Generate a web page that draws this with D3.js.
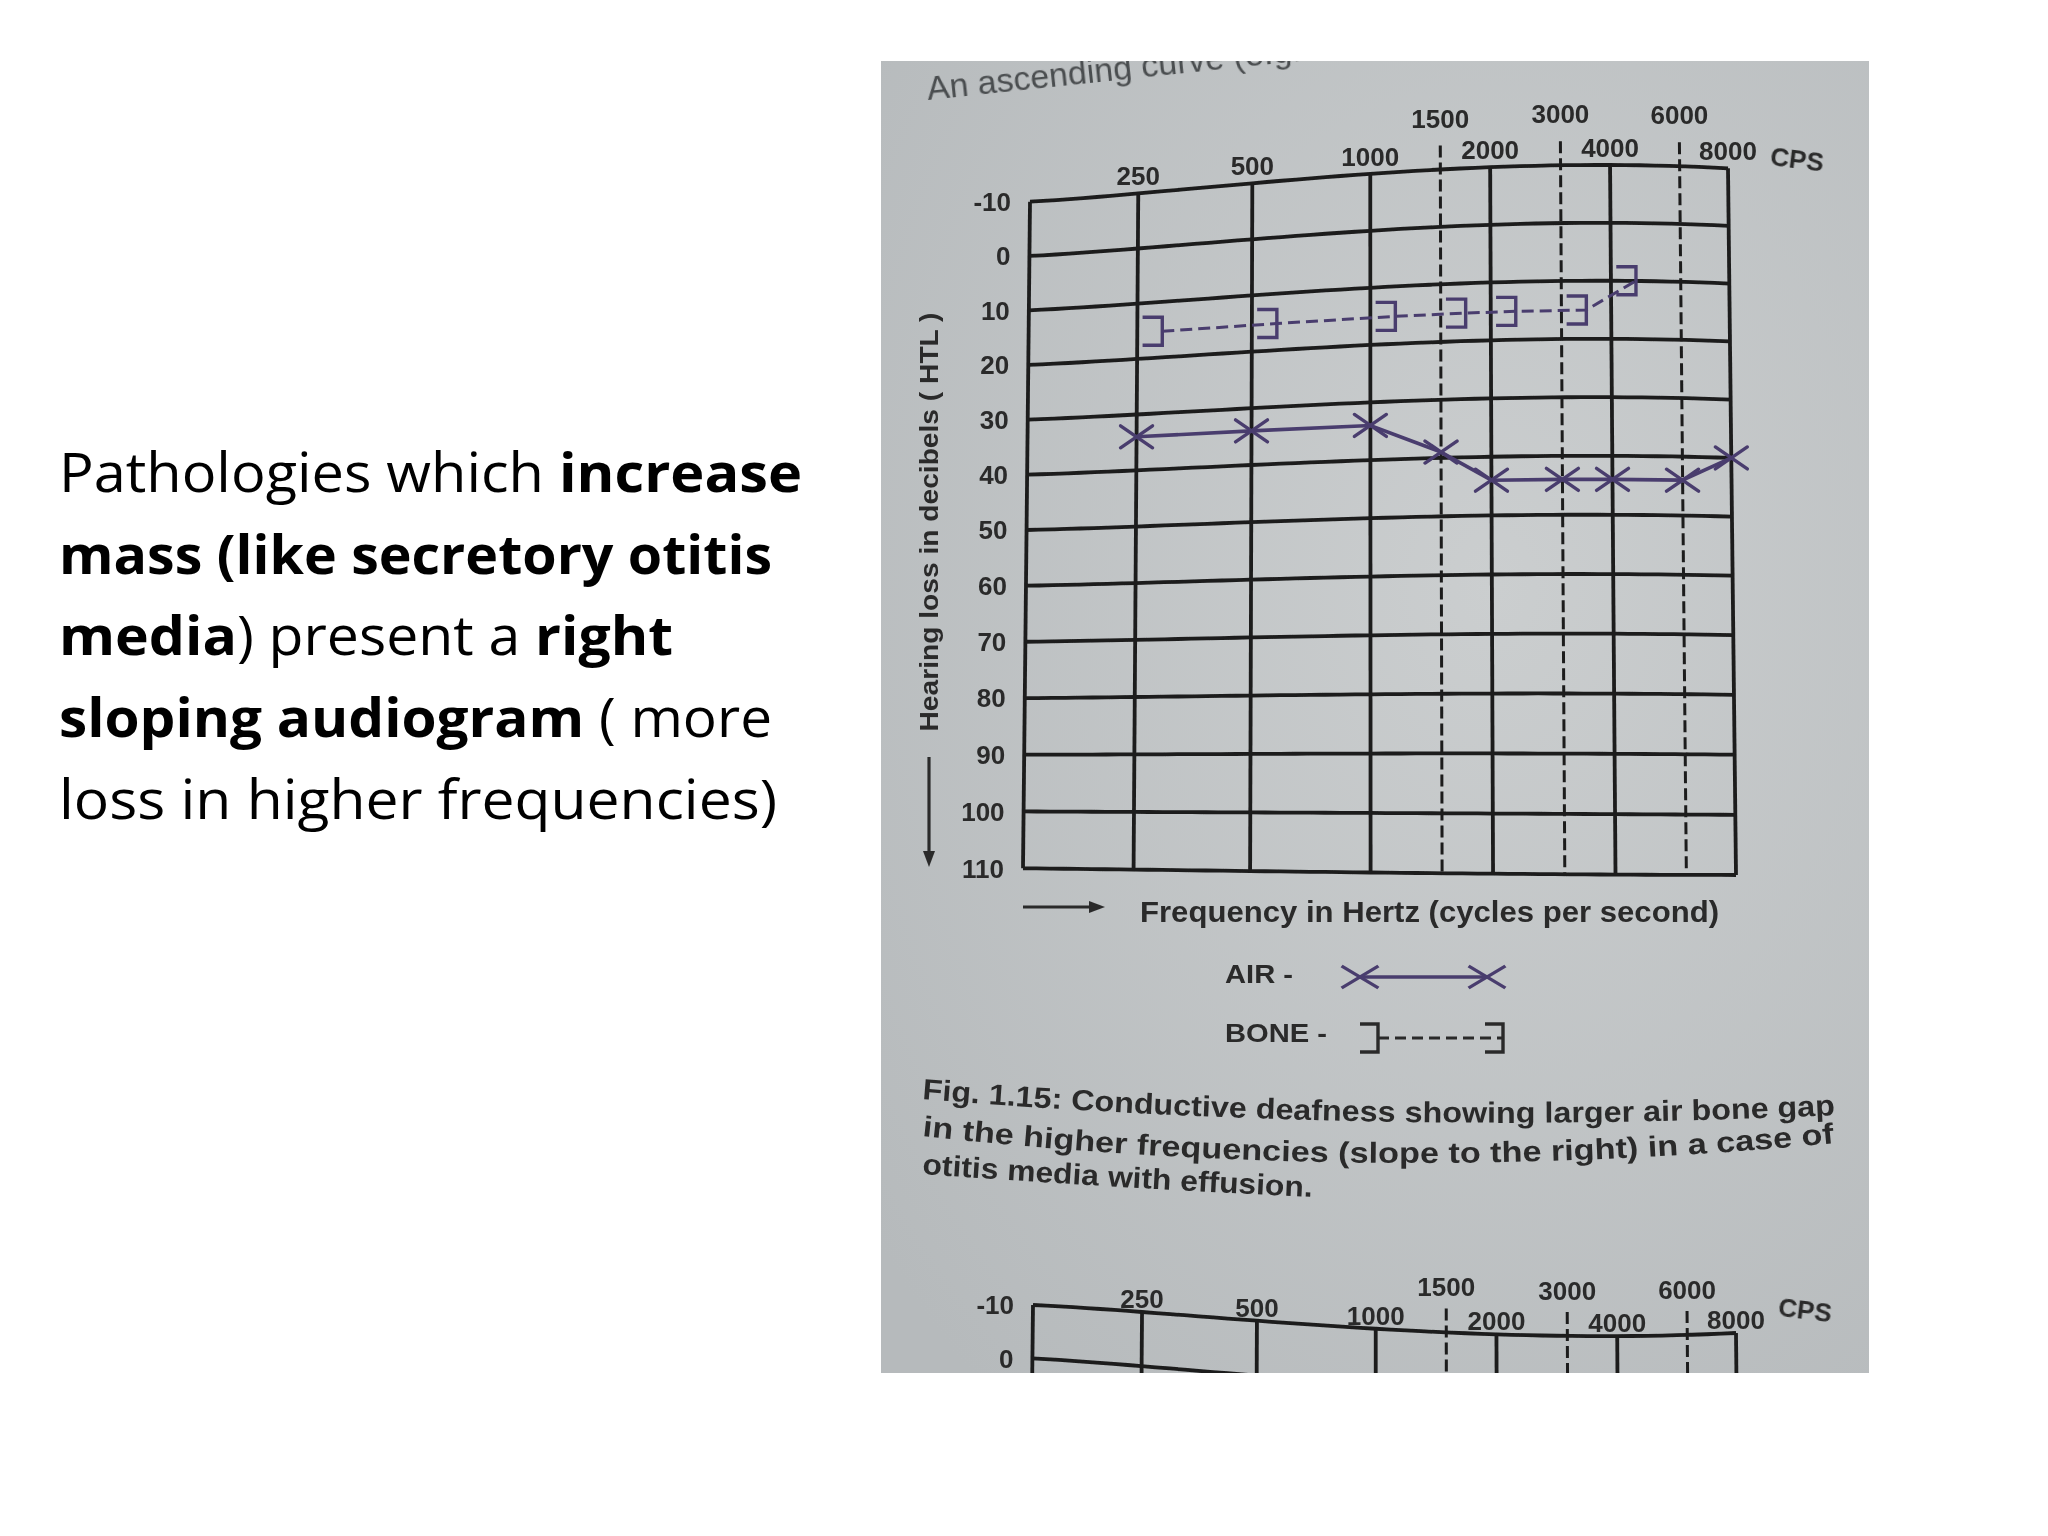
<!DOCTYPE html>
<html>
<head>
<meta charset="utf-8">
<script src="https://cdn.jsdelivr.net/npm/d3@7"></script>
<style>
  body { margin: 0; background: #fff; }
  svg { display: block; }
</style>
</head>
<body>
<div id="slide"></div>
<script>
// ---- data ----
const dbTicks = [-10, 0, 10, 20, 30, 40, 50, 60, 70, 80, 90, 100, 110];
const octaveFreqs = [250, 500, 1000, 2000, 4000, 8000];
const midFreqs = [1500, 3000, 6000];
const airFreq = [250, 500, 1000, 1500, 2000, 3000, 4000, 6000, 8000];
const airDb = [34, 34, 34, 39, 44, 44, 44, 44, 40];
const boneFreq = [250, 500, 1000, 1500, 2000, 3000, 4000];
const boneDb = [15, 15, 15, 15, 15, 15, 10];

const yTitle = "Hearing loss in decibels ( HTL )";
const xTitle = "Frequency in Hertz  (cycles per second)";
const caption = [
  "Fig. 1.15: Conductive deafness showing larger air bone gap",
  "in the higher frequencies (slope to the right) in a case of",
  "otitis media with effusion."
];
const slideLines = [
  [["Pathologies which ", false], ["increase", true]],
  [["mass (like secretory otitis", true]],
  [["media", true], [") present a ", false], ["right", true]],
  [["sloping audiogram", true], [" ( more", false]],
  [["loss in higher frequencies)", false]]
];

const W = 2048, H = 1536;
const ink = "#2b2b2b", pen = "#4a3d6e";

const svg = d3.select("#slide").append("svg")
  .attr("width", W).attr("height", H);
const defs = svg.append("defs");

// ---- slide text on the left ----
const lineW = [743, 713, 614, 713, 718];
slideLines.forEach((segs, i) => {
  const t = svg.append("text")
    .attr("x", 59).attr("y", 492 + i * 81.7)
    .attr("font-family", "'Open Sans', sans-serif")
    .attr("font-size", 54).attr("fill", "#000")
    .attr("textLength", lineW[i]).attr("lengthAdjust", "spacingAndGlyphs");
  segs.forEach(([s, b]) => t.append("tspan").attr("font-weight", b ? 700 : 400).text(s));
});

// ---- the photo ----
const photo = { x: 881, y: 61, w: 988, h: 1312 };
const grad = defs.append("radialGradient").attr("id", "paper")
  .attr("cx", "62%").attr("cy", "40%").attr("r", "80%");
grad.append("stop").attr("offset", "0%").attr("stop-color", "#cbcecf");
grad.append("stop").attr("offset", "100%").attr("stop-color", "#b6babc");
defs.append("clipPath").attr("id", "photoClip").append("rect")
  .attr("x", photo.x).attr("y", photo.y).attr("width", photo.w).attr("height", photo.h);
defs.append("filter").attr("id", "soft").append("feGaussianBlur").attr("stdDeviation", 0.7);

svg.append("rect").attr("x", photo.x).attr("y", photo.y)
  .attr("width", photo.w).attr("height", photo.h).attr("fill", "url(#paper)");

const page = svg.append("g").attr("clip-path", "url(#photoClip)")
  .append("g").attr("filter", "url(#soft)");

// scales: octave spacing across, decibels down
const x = d3.scaleLog().base(2).domain([125, 8000]).range([0, 1]);
const y = d3.scaleLinear().domain([-10, 110]).range([0, 1]);

// the printed page is photographed at an angle and curls a little
function makeWarp(c) {
  return (a, b) => {
    const s = a - 0.1 * a * (1 - a) * (1 - a);
    const xl = c.tl[0] + (c.bl[0] - c.tl[0]) * b, xr = c.tr[0] + (c.br[0] - c.tr[0]) * b;
    const yl = c.tl[1] + (c.bl[1] - c.tl[1]) * b, yr = c.tr[1] + (c.br[1] - c.tr[1]) * b;
    const bow = Math.pow(s, 1.6) * (1 - s) / 0.1768;
    return [
      xl + (xr - xl) * s,
      yl + (yr - yl) * s + (c.bowTop + (c.bowBot - c.bowTop) * b) * bow + c.belly * Math.sin(Math.PI * b)
    ];
  };
}
const warpA = makeWarp({ tl: [1030, 201.7], tr: [1728, 168.3], bl: [1023, 868.3], br: [1736, 875], bowTop: -12.6, bowBot: 1, belly: -5 });
const warpB = makeWarp({ tl: [1033, 1305], tr: [1736, 1333], bl: [1026, 1945], br: [1743, 2033], bowTop: 11, bowBot: 11, belly: 0 });

const line = d3.line();
const font = "'Liberation Sans', Arial, sans-serif";

function drawGrid(g, warp, lab) {
  const samples = d3.range(0, 1.0001, 1 / 48);
  g.selectAll(".hline").data(dbTicks).join("path")
    .attr("fill", "none").attr("stroke", "#1c1c1c").attr("stroke-width", 3.8)
    .attr("d", db => line(samples.map(a => warp(a, y(db)))));

  g.selectAll(".vline").data([x.domain()[0]].concat(octaveFreqs)).join("path")
    .attr("fill", "none").attr("stroke", "#1c1c1c").attr("stroke-width", 3.8)
    .attr("d", f => line([warp(x(f), 0), warp(x(f), 1)]));

  g.selectAll(".dline").data(midFreqs).join("path")
    .attr("fill", "none").attr("stroke", "#1c1c1c").attr("stroke-width", 3)
    .attr("stroke-dasharray", "12 5")
    .attr("d", f => {
      const p = warp(x(f), 0);
      return line([[p[0], p[1] - 24], warp(x(f), 1)]);
    });

  const labels = g.append("g").attr("font-family", font).attr("font-weight", 700)
    .attr("font-size", 26).attr("fill", ink).attr("text-anchor", "middle");
  labels.selectAll(".oct").data(octaveFreqs).join("text")
    .attr("x", f => warp(x(f), 0)[0]).attr("y", f => warp(x(f), 0)[1] - lab.low)
    .text(f => f);
  labels.selectAll(".mid").data(midFreqs).join("text")
    .attr("x", f => warp(x(f), 0)[0]).attr("y", f => warp(x(f), 0)[1] - lab.high)
    .text(f => f);
  const c = warp(1, 0);
  labels.append("text")
    .attr("transform", `translate(${c[0] + 68},${c[1] + lab.cps}) rotate(7)`)
    .text("CPS");
  labels.selectAll(".db").data(dbTicks).join("text")
    .attr("text-anchor", "end").attr("dy", "0.36em")
    .attr("x", db => warp(0, y(db))[0] - 19).attr("y", db => warp(0, y(db))[1])
    .text(db => db);
}

drawGrid(page.append("g"), warpA, { low: 8, high: 42, cps: 0 });
drawGrid(page.append("g"), warpB, { low: 4, high: 36, cps: -14 });

// ---- symbols ----
const airMark = "M-16,-11L16,11M-16,11L16,-11";
const boneMark = "M-18,-14H0V14H-18";
const boneShift = 25;

const air = airFreq.map((f, i) => warpA(x(f), y(airDb[i])));
const bone = boneFreq.map((f, i) => {
  const p = warpA(x(f), y(boneDb[i]));
  return [p[0] + boneShift, p[1]];
});

const data = page.append("g").attr("stroke", pen).attr("fill", "none").attr("stroke-linecap", "round");
data.append("path").attr("d", line(air)).attr("stroke-width", 3.6);
data.selectAll(".air").data(air).join("path")
  .attr("transform", d => `translate(${d[0]},${d[1]})`)
  .attr("d", airMark).attr("stroke-width", 3.4);
data.append("path").attr("d", line(bone)).attr("stroke-width", 3)
  .attr("stroke-dasharray", "12 6").attr("stroke-linecap", "butt");
data.selectAll(".bone").data(bone).join("path")
  .attr("transform", d => `translate(${d[0]},${d[1]})`)
  .attr("d", boneMark).attr("stroke-width", 3.4).attr("stroke-linecap", "square");

// ---- axis titles and arrows ----
const arrowHead = (tip, dir) => {
  const [tx, ty] = tip, [dx, dy] = dir, nx = -dy, ny = dx;
  return `M${tx},${ty}L${tx - dx * 16 + nx * 6},${ty - dy * 16 + ny * 6}L${tx - dx * 16 - nx * 6},${ty - dy * 16 - ny * 6}Z`;
};
page.append("text")
  .attr("transform", "translate(938,522) rotate(-90)")
  .attr("text-anchor", "middle").attr("font-family", font).attr("font-weight", 700)
  .attr("font-size", 26).attr("fill", ink)
  .attr("textLength", 419).attr("lengthAdjust", "spacingAndGlyphs")
  .text(yTitle);
page.append("path").attr("d", line([[929, 757], [929, 852]])).attr("stroke", ink).attr("stroke-width", 3.2);
page.append("path").attr("d", arrowHead([929, 867], [0, 1])).attr("fill", ink);

page.append("path").attr("d", line([[1023, 907], [1090, 907]])).attr("stroke", ink).attr("stroke-width", 3.2);
page.append("path").attr("d", arrowHead([1105, 907], [1, 0])).attr("fill", ink);
page.append("text")
  .attr("x", 1140).attr("y", 922)
  .attr("font-family", font).attr("font-weight", 700).attr("font-size", 29).attr("fill", ink)
  .attr("textLength", 579).attr("lengthAdjust", "spacingAndGlyphs")
  .text(xTitle);

// ---- legend ----
const legend = page.append("g");
legend.append("text").attr("x", 1225).attr("y", 983)
  .attr("font-family", font).attr("font-weight", 700).attr("font-size", 26).attr("fill", ink)
  .attr("textLength", 68).attr("lengthAdjust", "spacingAndGlyphs").text("AIR -");
legend.append("text").attr("x", 1225).attr("y", 1042)
  .attr("font-family", font).attr("font-weight", 700).attr("font-size", 26).attr("fill", ink)
  .attr("textLength", 102).attr("lengthAdjust", "spacingAndGlyphs").text("BONE -");
const legAir = [[1360, 977], [1487, 977]];
const legBone = [[1378, 1038], [1503, 1038]];
legend.append("path").attr("d", line(legAir)).attr("stroke", pen).attr("stroke-width", 3.4);
legend.selectAll(".la").data(legAir).join("path")
  .attr("transform", d => `translate(${d[0]},${d[1]}) scale(1.15,1)`)
  .attr("d", airMark).attr("fill", "none").attr("stroke", pen).attr("stroke-width", 3.2);
legend.append("path").attr("d", line(legBone)).attr("stroke", ink).attr("stroke-width", 3)
  .attr("stroke-dasharray", "11 6");
legend.selectAll(".lb").data(legBone).join("path")
  .attr("transform", d => `translate(${d[0]},${d[1]})`)
  .attr("d", boneMark).attr("fill", "none").attr("stroke", ink).attr("stroke-width", 3.4);

// ---- caption, following the curl of the page ----
const capPaths = [
  "M922,1099 Q1379,1136 1836,1115",
  "M922,1136 Q1379,1186 1836,1143",
  "M922,1174 Q1117,1188 1313,1197"
];
const capLen = [914, 914, 391];
capPaths.forEach((d, i) => {
  defs.append("path").attr("id", "cap" + i).attr("d", d);
  page.append("text")
    .attr("font-family", font).attr("font-weight", 700).attr("font-size", 29).attr("fill", ink)
    .append("textPath").attr("href", "#cap" + i)
    .attr("textLength", capLen[i]).attr("lengthAdjust", "spacingAndGlyphs")
    .text(caption[i]);
});

// running head of the page, cut by the photo edge
page.append("text")
  .attr("transform", "translate(928,100) rotate(-6)")
  .attr("font-family", font).attr("font-size", 34).attr("fill", "#4a4d4f")
  .text("An ascending curve (e.g.");
</script>
</body>
</html>
